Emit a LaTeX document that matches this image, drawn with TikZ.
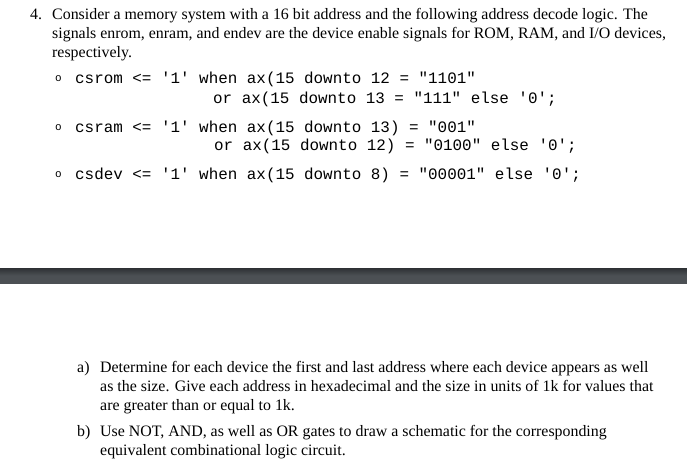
\documentclass[tikz,border=0pt]{standalone}
\usepackage{fontspec}
\setmainfont{Liberation Serif}
\setmonofont{Liberation Mono}
\definecolor{bartop}{HTML}{2E3134}
\definecolor{barbot}{HTML}{4C5054}
\begin{document}
\begin{tikzpicture}[x=1pt,y=-1pt,
  txt/.style={anchor=base west,inner sep=0pt,font=\fontsize{15.9}{18}\selectfont},
  code/.style={anchor=base west,inner sep=0pt,font=\fontsize{15.9}{18}\ttfamily}]
\useasboundingbox (0,0) rectangle (687,469);
\shade[top color=bartop, bottom color=barbot, middle color=barbot] (0,268) rectangle (687,283);
\node[txt] (n4) at (30,19) {4.};
\node[txt] (l1) at (52,19) {Consider a memory system with a 16 bit address and the following address decode logic. The};
\node[txt] (l2) at (52,38) {signals enrom, enram, and endev are the device enable signals for ROM, RAM, and I/O devices,};
\node[txt] (l3) at (52,57) {respectively.};
\foreach \y/\n in {81/b1,130/b2,177/b3}{\node[code] (\n) at (55,\y) {\fontsize{11}{12}\selectfont o};}
\node[code] (c1) at (75,83) {csrom <= '1' when ax(15 downto 12 = "1101"};
\node[code] (c2) at (213,103) {or ax(15 downto 13 = "111" else '0';};
\node[code] (c3) at (75,132) {csram <= '1' when ax(15 downto 13) = "001"};
\node[code] (c4) at (214,150) {or ax(15 downto 12) = "0100" else '0';};
\node[code] (c5) at (75,179) {csdev <= '1' when ax(15 downto 8) = "00001" else '0';};
\node[txt] (qa) at (77,372) {a)};
\node[txt] (a1) at (100,372) {Determine for each device the first and last address where each device appears as well};
\node[txt] (a2) at (100,391) {as the size. Give each address in hexadecimal and the size in units of 1k for values that};
\node[txt] (a3) at (100,410) {are greater than or equal to 1k.};
\node[txt] (qb) at (77,436) {b)};
\node[txt] (b1t) at (100,436) {Use NOT, AND, as well as OR gates to draw a schematic for the corresponding};
\node[txt] (b2t) at (100,455) {equivalent combinational logic circuit.};
\end{tikzpicture}
\end{document}
